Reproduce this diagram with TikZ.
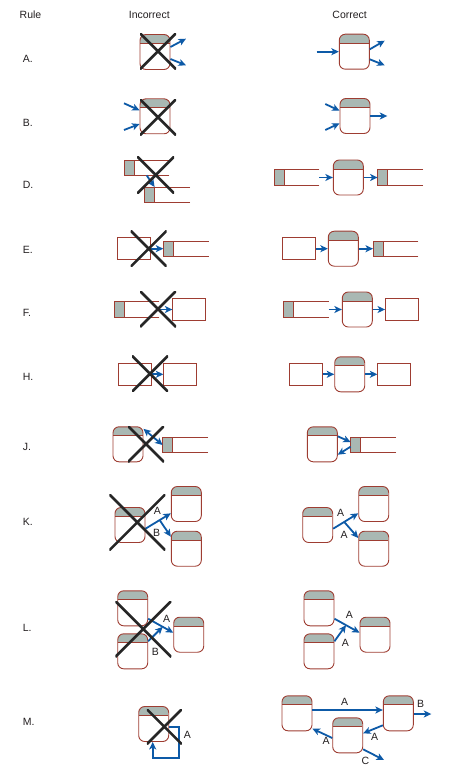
\documentclass[tikz,border=0pt]{standalone}
\usepackage{fontspec}
\setsansfont{Liberation Sans}
\usetikzlibrary{arrows.meta}

\definecolor{dfdred}{HTML}{9E3D32}
\definecolor{dfdgray}{HTML}{A9B8B3}
\definecolor{dfdblue}{HTML}{0D5AA7}
\definecolor{dfdtext}{HTML}{231F20}

\begin{document}
\begin{tikzpicture}[
    x=1pt, y=-1pt, % one unit per pixel, counted from the top
    every node/.style={
        font=\sffamily\fontsize{10.5}{12}\selectfont, % Sans-serif labels
        text=dfdtext, % Near black text
        inner sep=0pt
    },
    rulelabel/.style={anchor=west}, % Row letters on the left
    process/.style={
        draw=dfdred, line width=0.9pt, % Thin red-brown border
        rounded corners=6pt, % Rounded process box
        minimum width=30pt, minimum height=35pt,
        path picture={
            \fill[dfdgray, sharp corners] (path picture bounding box.north west) rectangle ([yshift=-9pt]path picture bounding box.north east);
            \draw[dfdred, line width=0.9pt, sharp corners] ([yshift=-9pt]path picture bounding box.north west) -- ([yshift=-9pt]path picture bounding box.north east);
        }
    },
    entity/.style={draw=dfdred, line width=0.9pt, minimum width=33pt, minimum height=22pt}, % External entity
    storeline/.style={-, draw=dfdred, line width=0.9pt}, % Lines of a data store
    storetab/.style={fill=dfdgray, to path={rectangle ([xshift=10pt]\tikztotarget)}}, % Grey tab of a data store
    store/.style={
        minimum width=45pt, minimum height=15pt, % Open-ended data store
        append after command={
            \pgfextra{\let\storenode\tikzlastnode}
            (\storenode.north east) edge[storeline] (\storenode.north west)
            (\storenode.south east) edge[storeline] (\storenode.south west)
            (\storenode.north west) edge[storeline, storetab] (\storenode.south west)
        }
    },
    flow/.style={draw=dfdblue, line width=1.8pt, -{Stealth[length=7.5pt, width=7pt, inset=2pt]}}, % Data flow
    crossline/.style={draw=black!85, line width=2.6pt}, % Strike-out lines
    cross/.style={
        minimum size=#1, % Square marking a wrong drawing
        path picture={
            \draw[crossline] (path picture bounding box.north west) -- (path picture bounding box.south east)
                (path picture bounding box.north east) -- (path picture bounding box.south west);
        }
    },
    cross/.default=36pt
]

\useasboundingbox (0,0) rectangle (455,783);

% column heads
\node (hRule) at (30.5,14.5) {Rule};
\node (hWrong) at (149.3,14.5) {Incorrect};
\node (hRight) at (349.7,14.5) {Correct};

% row letters
\node[rulelabel] (rA) at (22.7,58.7) {A.};
\node[rulelabel] (rB) at (22.7,123.3) {B.};
\node[rulelabel] (rD) at (22.7,185) {D.};
\node[rulelabel] (rE) at (22.7,250) {E.};
\node[rulelabel] (rF) at (22.7,313) {F.};
\node[rulelabel] (rH) at (22.7,377) {H.};
\node[rulelabel] (rJ) at (22.7,447) {J.};
\node[rulelabel] (rK) at (22.7,522) {K.};
\node[rulelabel] (rL) at (22.7,628) {L.};
\node[rulelabel] (rM) at (22.7,722) {M.};

% A
\node[process] (pAx) at (155,52) {};
\coordinate (oAx1) at (186,38.7);
\coordinate (oAx2) at (186,65.3);
\draw[flow] ([yshift=5pt]pAx.east) -- (oAx1);
\draw[flow] ([yshift=-7pt]pAx.east) -- (oAx2);
\node[cross] (xA) at (158,51.3) {};

\node[process] (pA) at (354.3,51.7) {};
\coordinate (iA) at (316.7,51.7);
\coordinate (oA1) at (384.7,40.7);
\coordinate (oA2) at (384.7,65.3);
\draw[flow] (iA) -- (pA.west);
\draw[flow] ([yshift=2.4pt]pA.east) -- (oA1);
\draw[flow] ([yshift=-7.6pt]pA.east) -- (oA2);

% B
\node[process] (pBx) at (155,116.3) {};
\coordinate (iBx1) at (124,103.3);
\coordinate (iBx2) at (124,130);
\draw[flow] (iBx1) -- ([yshift=6pt]pBx.west);
\draw[flow] (iBx2) -- ([yshift=-7.7pt]pBx.west);
\node[cross] (xB) at (158,117.3) {};

\node[process] (pB) at (355,116) {};
\coordinate (iB1) at (325.3,104);
\coordinate (iB2) at (325.3,130);
\coordinate (oB) at (387.3,116);
\draw[flow] (iB1) -- ([yshift=5.3pt]pB.west);
\draw[flow] (iB2) -- ([yshift=-7.3pt]pB.west);
\draw[flow] (pB.east) -- (oB);

% D
\node[store] (sDx1) at (146.7,167.7) {};
\node[store] (sDx2) at (167.3,194.7) {};
\draw[flow] (sDx1.south) -- ([xshift=10pt]sDx2.north west);
\node[cross=37pt] (xD) at (155.7,175) {};

\node[store] (sD1) at (296.7,177.5) {};
\node[process] (pD) at (348.3,177.5) {};
\node[store] (sD2) at (400.3,177.5) {};
\draw[flow] (sD1.east) -- (pD.west);
\draw[flow] (pD.east) -- (sD2.west);

% E
\node[entity] (eEx) at (134,248.7) {};
\node[store] (sEx) at (186,248.7) {};
\draw[flow] (eEx.east) -- (sEx.west);
\node[cross] (xE) at (148.7,248.7) {};

\node[entity] (eE) at (298.7,248.7) {};
\node[process] (pE) at (343.3,248.7) {};
\node[store] (sE) at (395.7,248.7) {};
\draw[flow] (eE.east) -- (pE.west);
\draw[flow] (pE.east) -- (sE.west);

% F
\node[store] (sFx) at (136.7,309.5) {};
\node[entity] (eFx) at (189.3,309.5) {};
\draw[flow] (sFx.east) -- (eFx.west);
\node[cross] (xF) at (158,309) {};

\node[store] (sF) at (306,309.5) {};
\node[process] (pF) at (357.3,309.5) {};
\node[entity] (eF) at (402,309.5) {};
\draw[flow] (sF.east) -- (pF.west);
\draw[flow] (pF.east) -- (eF.west);

% H
\node[entity] (eHx1) at (134.7,374.3) {};
\node[entity] (eHx2) at (180.3,374.3) {};
\draw[flow] (eHx1.east) -- (eHx2.west);
\node[cross] (xH) at (150,373.7) {};

\node[entity] (eH1) at (306.3,374.3) {};
\node[process] (pH) at (349.7,374.3) {};
\node[entity] (eH2) at (394.3,374.3) {};
\draw[flow] (eH1.east) -- (pH.west);
\draw[flow] (pH.east) -- (eH2.west);

% J
\node[process] (pJx) at (128,444.3) {};
\node[store] (sJx) at (185.3,445) {};
\draw[flow, {Stealth[length=7.5pt, width=7pt, inset=2pt]}-{Stealth[length=7.5pt, width=7pt, inset=2pt]}] (pJx.45) -- (sJx.west);
\node[cross] (xJ) at (146,444) {};

\node[process] (pJ) at (322.3,444.3) {};
\node[store] (sJ) at (373.3,445) {};
\draw[flow] ([yshift=8pt]pJ.east) -- ([yshift=3pt]sJ.west);
\draw[flow] ([yshift=-1.7pt]sJ.west) -- ([yshift=-10.4pt]pJ.east);

% K
\node[process] (pKx1) at (130,525) {};
\node[process] (pKx2) at (186.3,504) {};
\node[process] (pKx3) at (186.3,548.7) {};
\draw[flow] ([yshift=-3.7pt]pKx1.east) -- coordinate[pos=0.56] (kx) ([yshift=-9.3pt]pKx2.west);
\draw[flow] (kx) -- ([yshift=12pt]pKx3.west);
\node (aKx) at (157.3,511.3) {A};
\node (bKx) at (156.7,532.7) {B};
\node[cross=56pt] (xK) at (137.3,522.3) {};

\node[process] (pK1) at (317.7,525) {};
\node[process] (pK2) at (373.7,504) {};
\node[process] (pK3) at (373.7,548.7) {};
\draw[flow] ([yshift=-3.7pt]pK1.east) -- coordinate[pos=0.44] (k) ([yshift=-9.3pt]pK2.west);
\draw[flow] (k) -- ([yshift=10.7pt]pK3.west);
\node (aK1) at (340.7,512.7) {A};
\node (aK2) at (344,535.3) {A};

% L
\node[process] (pLx1) at (132.7,608.3) {};
\node[process] (pLx2) at (132.7,651.3) {};
\node[process] (pLx3) at (188.7,634.7) {};
\draw[flow] ([yshift=-10.4pt]pLx1.east) -- coordinate[pos=0.58] (lx) ([yshift=2pt]pLx3.west);
\draw[flow] ([yshift=10pt]pLx2.east) -- (lx);
\node (aLx) at (166.7,619.3) {A};
\node (bLx) at (155.3,652) {B};
\node[cross=56pt] (xL) at (143.3,629) {};

\node[process] (pL1) at (319,608.3) {};
\node[process] (pL2) at (319,651.3) {};
\node[process] (pL3) at (375,634.7) {};
\draw[flow] ([yshift=-10.4pt]pL1.east) -- coordinate[pos=0.46] (l) ([yshift=2pt]pL3.west);
\draw[flow] ([yshift=10pt]pL2.east) -- (l);
\node (aL1) at (349.3,615.3) {A};
\node (aL2) at (345.3,642.7) {A};

% M
\node[process] (pMx) at (153.7,724) {};
\coordinate (mx) at (178.7,758);
\draw[flow] ([yshift=-2.7pt]pMx.east) -| (mx) -| ([xshift=-1pt]pMx.south);
\node (aMx) at (187.3,734.7) {A};
\node[cross=35pt] (xM) at (164.3,726.7) {};

\node[process] (pM1) at (297,713.3) {};
\node[process] (pM2) at (398.3,713.3) {};
\node[process] (pM3) at (347.7,735.3) {};
\coordinate (oMB) at (431.3,714);
\coordinate (oMC) at (384,760);
\draw[flow] ([yshift=3.3pt]pM1.east) -- ([yshift=3.3pt]pM2.west);
\draw[flow] ([yshift=-0.7pt]pM2.east) -- (oMB);
\draw[flow] ([yshift=-12pt]pM2.west) -- ([yshift=2pt]pM3.east);
\draw[flow] ([yshift=-2.7pt]pM3.west) -- ([yshift=-15.4pt]pM1.east);
\draw[flow] ([yshift=-14pt]pM3.east) -- (oMC);
\node (aM1) at (344.7,702) {A};
\node (bM) at (420.7,704) {B};
\node (aM2) at (374.7,737.3) {A};
\node (aM3) at (326,741.3) {A};
\node (cM) at (365.3,760.7) {C};
\end{tikzpicture}
\end{document}
